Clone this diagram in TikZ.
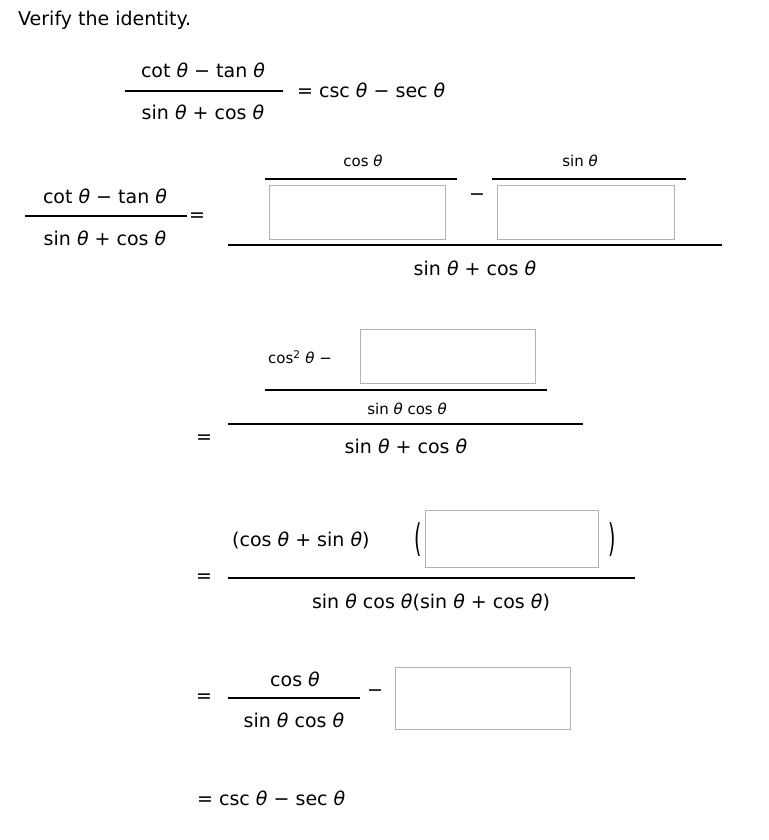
\documentclass[tikz,border=0pt]{standalone}
\usepackage{fontspec}
\setmainfont{DejaVu Sans}
\newcommand{\tht}{\textit{θ}}
\begin{document}
\begin{tikzpicture}[x=1pt,y=-1pt,
  txt/.style={inner sep=0pt,font=\fontsize{19}{22}\selectfont},
  sml/.style={inner sep=0pt,font=\fontsize{15}{18}\selectfont},
  bar/.style={line width=1.2pt},
  ibox/.style={draw=gray!60,line width=1pt}]
\useasboundingbox (0,0) rectangle (768,840);
\node[txt,anchor=west] (title) at (18,20) {Verify the identity.};
% top identity
\node[txt] (n0) at (203,70) {cot \tht\ − tan \tht};
\draw[bar] (125,91) -- (283,91);
\node[txt] (d0) at (203,112) {sin \tht\ + cos \tht};
\node[txt,anchor=west] (r0) at (297,90) {= csc \tht\ − sec \tht};
% row 1
\node[txt] (n1) at (105,196) {cot \tht\ − tan \tht};
\draw[bar] (25,216) -- (187,216);
\node[txt] (d1) at (105,238) {sin \tht\ + cos \tht};
\node[txt] (e1) at (197,217) {=};
\draw[bar] (228,245) -- (722,245);
\node[sml] (c1) at (363,161) {cos \tht};
\draw[bar] (265,179) -- (457,179);
\draw[ibox] (269,185) rectangle (445,239);
\node[txt] (m1) at (477,197) {−};
\node[sml] (s1) at (580,161) {sin \tht};
\draw[bar] (492,179) -- (686,179);
\draw[ibox] (497,185) rectangle (674,239);
\node[txt] (dd1) at (475,268) {sin \tht\ + cos \tht};
% row 2
\node[sml,anchor=west] (c2) at (268,357) {cos\textsuperscript{2} \tht\ −};
\draw[ibox] (360,329) rectangle (535,383);
\draw[bar] (265,390) -- (547,390);
\node[sml] (s2) at (407,409) {sin \tht\ cos \tht};
\draw[bar] (228,424) -- (583,424);
\node[txt] (e2) at (204,439) {=};
\node[txt] (dd2) at (406,446) {sin \tht\ + cos \tht};
% row 3
\node[txt,anchor=west] (n3) at (232,540) {(cos \tht\ + sin \tht)};
\node[inner sep=0pt,font=\fontsize{19}{22}\selectfont,yscale=2] (lp) at (418,540) {(};
\draw[ibox] (425,510) rectangle (598,567);
\node[inner sep=0pt,font=\fontsize{19}{22}\selectfont,yscale=2] (rp) at (612,540) {)};
\node[txt] (e3) at (204,578) {=};
\draw[bar] (228,578) -- (635,578);
\node[txt] (d3) at (431,602) {sin \tht\ cos \tht(sin \tht\ + cos \tht)};
% row 4
\node[txt] (n4) at (295,679) {cos \tht};
\draw[bar] (228,698) -- (360,698);
\node[txt] (d4) at (294,720) {sin \tht\ cos \tht};
\node[txt] (e4) at (204,698) {=};
\node[txt] (m4) at (375,693) {−};
\draw[ibox] (395,667) rectangle (570,729);
% row 5
\node[txt,anchor=west] (r5) at (197,798) {= csc \tht\ − sec \tht};
\end{tikzpicture}
\end{document}
